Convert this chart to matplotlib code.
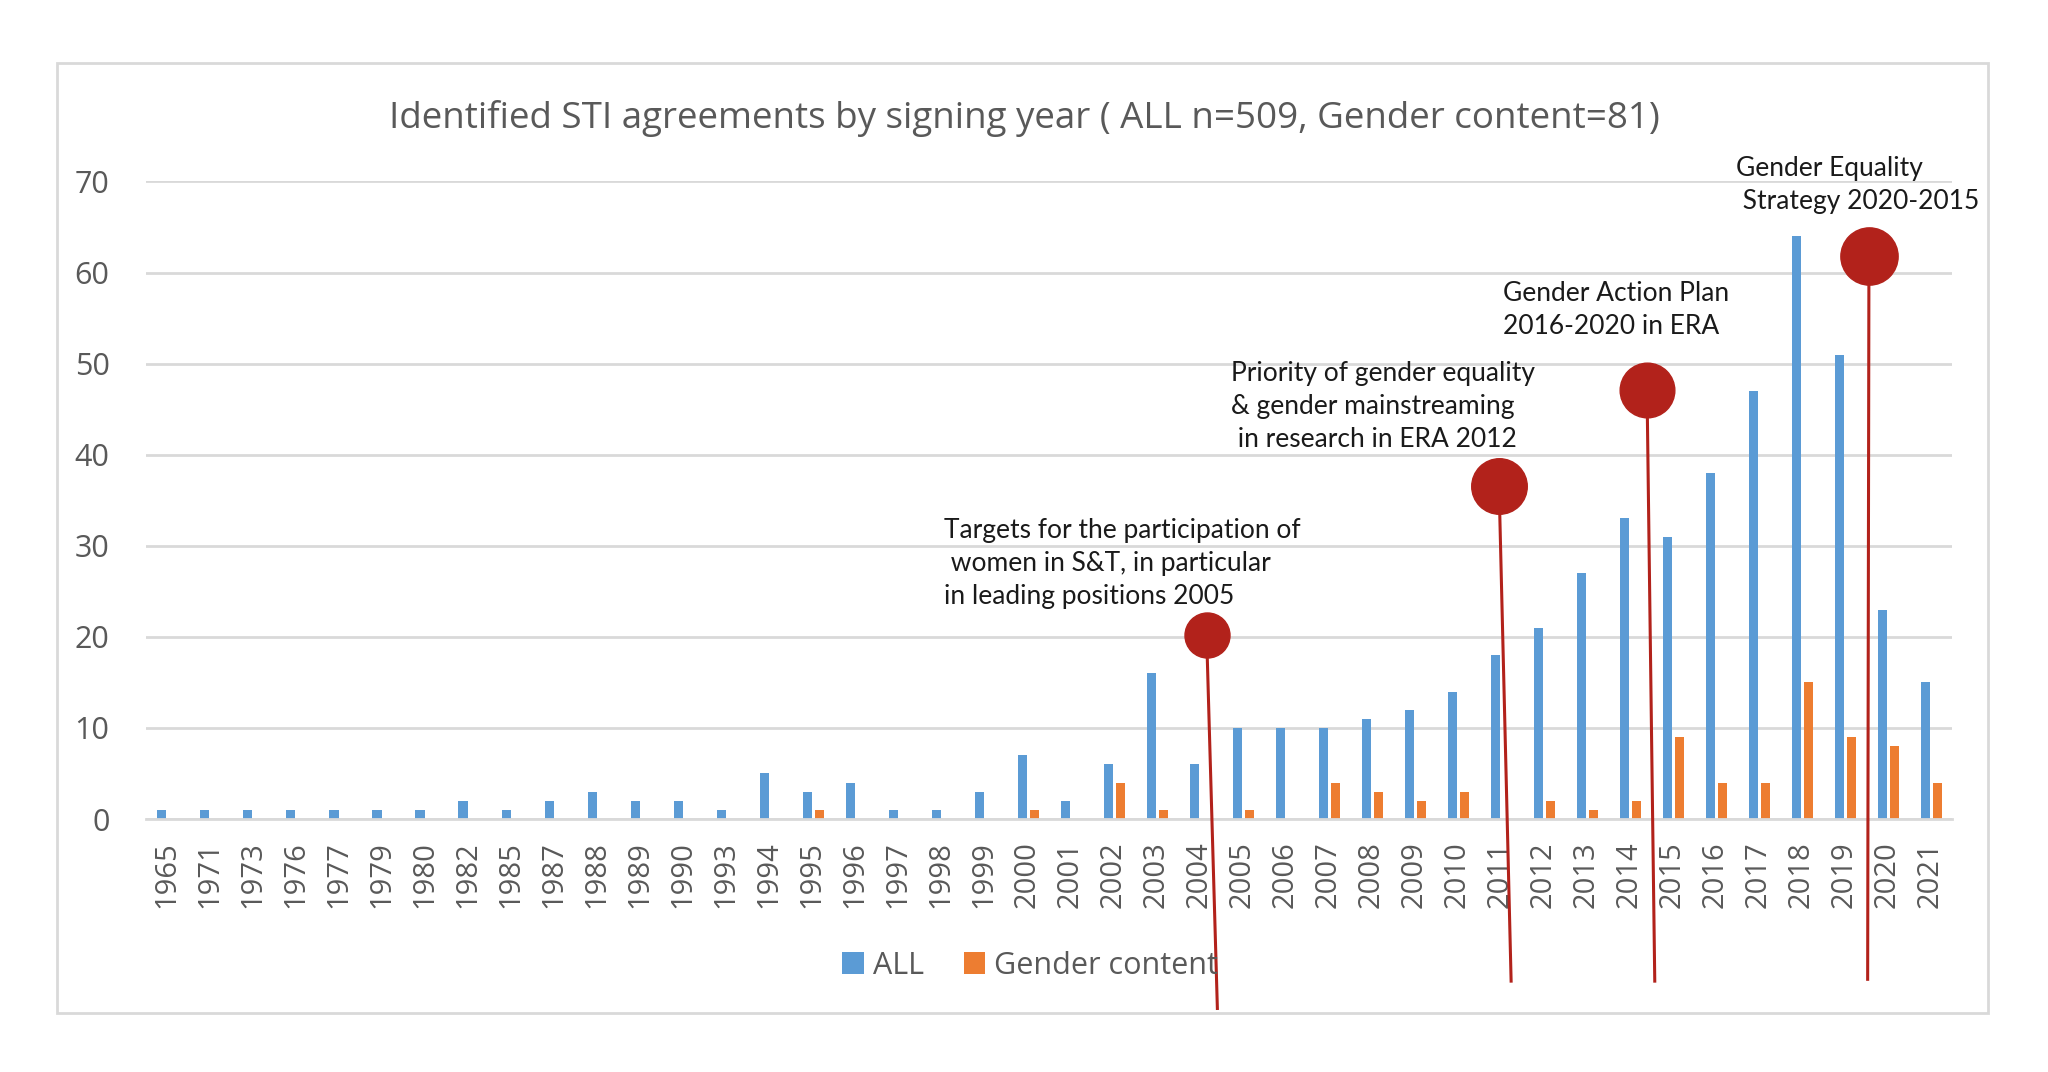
import numpy as np
import matplotlib
matplotlib.use("Agg")
import matplotlib.pyplot as plt
from matplotlib.patches import Rectangle

# data
years = ["1965", "1971", "1973", "1976", "1977", "1979", "1980", "1982", "1985", "1987",
         "1988", "1989", "1990", "1993", "1994", "1995", "1996", "1997", "1998", "1999",
         "2000", "2001", "2002", "2003", "2004", "2005", "2006", "2007", "2008", "2009",
         "2010", "2011", "2012", "2013", "2014", "2015", "2016", "2017", "2018", "2019",
         "2020", "2021"]
all_counts = [1, 1, 1, 1, 1, 1, 1, 2, 1, 2,
              3, 2, 2, 1, 5, 3, 4, 1, 1, 3,
              7, 2, 6, 16, 6, 10, 10, 10, 11, 12,
              14, 18, 21, 27, 33, 31, 38, 47, 64, 51,
              23, 15]
gender_counts = [0, 0, 0, 0, 0, 0, 0, 0, 0, 0,
                 0, 0, 0, 0, 0, 1, 0, 0, 0, 0,
                 1, 0, 4, 1, 0, 1, 0, 4, 3, 2,
                 3, 0, 2, 1, 2, 9, 4, 4, 15, 9,
                 8, 4]

# milestone markers: label, x (category units), y of dot, y of line end
milestones = ["Targets for the participation of\n women in S&T, in particular\nin leading positions 2005",
              "Priority of gender equality\n& gender mainstreaming\n in research in ERA 2012",
              "Gender Action Plan\n2016-2020 in ERA",
              "Gender Equality\n Strategy 2020-2015"]
dot_x = [24.17, 30.97, 34.41, 39.57]
dot_y = [20.2, 36.6, 47.1, 61.8]
end_x = [24.42, 31.25, 34.59, 39.54]
end_y = [-20.8, -17.8, -17.8, -17.6]
dot_size = [1050, 1600, 1550, 1700]
label_x = [18.07, 24.73, 31.05, 36.48]
label_y = [33.0, 50.3, 59.1, 72.8]

grey = "#595959"
blue = "#5B9BD5"
orange = "#ED7D31"
red = "#B2221B"

fig = plt.figure(figsize=(20.48, 10.72), dpi=100)

# chart area border
fig.patches.append(Rectangle((0.0278, 0.055), 0.9429, 0.886, transform=fig.transFigure,
                             fill=False, edgecolor="#D9D9D9", linewidth=2))

ax = fig.add_axes([0.0711, 0.236, 0.882, 0.5947])
x = np.arange(len(years))
ax.bar(x - 0.12, all_counts, width=0.21, color=blue, label="ALL", zorder=2)
ax.bar(x + 0.17, gender_counts, width=0.21, color=orange, label="Gender content", zorder=2)

ax.set_xlim(-0.5, len(years) - 0.5)
ax.set_ylim(0, 70)
ax.set_yticks(range(0, 71, 10))
ax.set_xticks(x)
ax.set_xticklabels(years, rotation=90)
ax.yaxis.grid(True, color="#D9D9D9", linewidth=2, zorder=0)
ax.set_axisbelow(True)
for s in ["top", "right", "left"]:
    ax.spines[s].set_visible(False)
ax.spines["bottom"].set_color("#D9D9D9")
ax.spines["bottom"].set_linewidth(2)
ax.tick_params(axis="x", length=0, colors=grey, labelsize=21, pad=16)
ax.tick_params(axis="y", length=0, colors=grey, labelsize=22, pad=26)
for t in ax.get_xticklabels() + ax.get_yticklabels():
    t.set_fontfamily("Open Sans")

# milestone lines and dots
for i in range(len(milestones)):
    ax.plot([dot_x[i], end_x[i]], [dot_y[i], end_y[i]], color=red, linewidth=2.2,
            clip_on=False, zorder=4)
    ax.scatter([dot_x[i]], [dot_y[i]], s=dot_size[i], color=red, clip_on=False, zorder=5)
    ax.text(label_x[i], label_y[i], milestones[i], fontsize=19, fontfamily="Lato",
            color="#1a1a1a", va="top", ha="left", linespacing=1.4, zorder=6)

fig.text(0.5, 0.889, "Identified STI agreements by signing year ( ALL n=509, Gender content=81)",
         ha="center", va="center", fontsize=26.5, color=grey, fontfamily="Open Sans")

leg = fig.legend(loc="center", bbox_to_anchor=(0.503, 0.099), ncol=2, frameon=False,
                 prop={"family": "Open Sans", "size": 22}, handlelength=0.7, handleheight=0.7,
                 handletextpad=0.3, columnspacing=1.3)
for t in leg.get_texts():
    t.set_color(grey)

fig.savefig("out.png", dpi=100)
